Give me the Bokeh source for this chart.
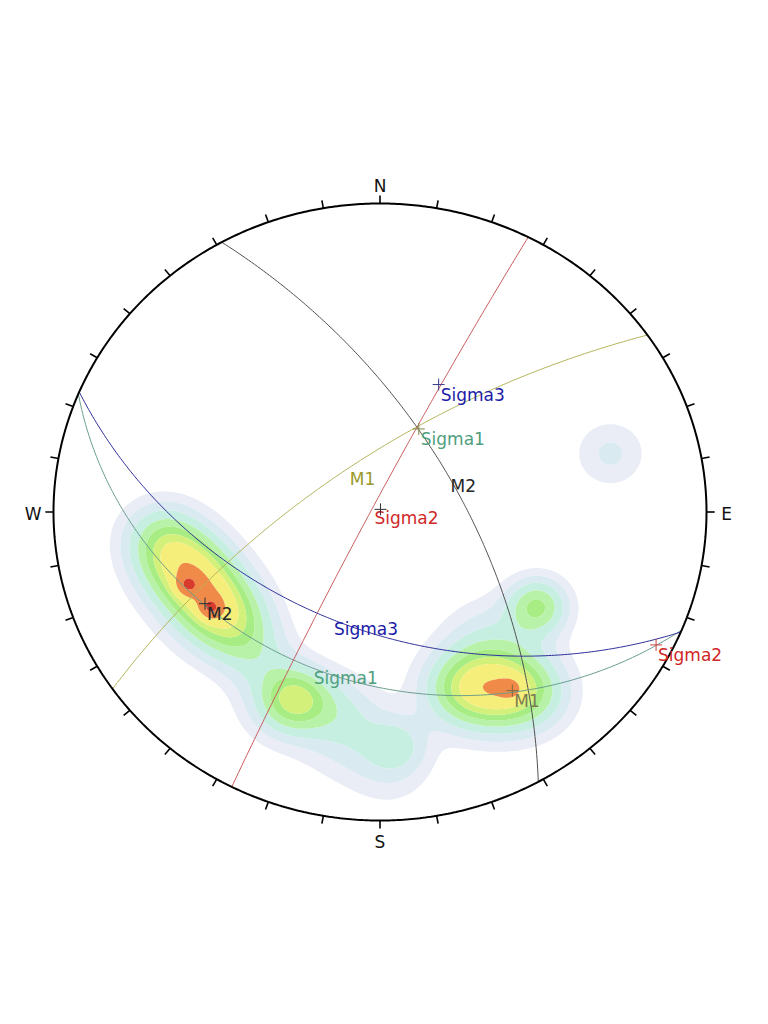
import numpy as np
from bokeh.plotting import figure
from bokeh.models import Range1d
from bokeh.embed import file_html
from bokeh.resources import INLINE
from bokeh.core.properties import value

# ---------------- data ----------------
cardinal_labels = ["N", "E", "S", "W"]
cardinal_azimuths = [0, 90, 180, 270]
tick_azimuths = list(range(0, 360, 10))

# great circles (dip direction / dip, degrees)
plane_names = ["M1", "M2", "Sigma1", "Sigma2", "Sigma3"]
plane_dipdir = [325.0, 61.0, 202.5, 297.0, 202.9]
plane_dip = [70.5, 63.0, 32.7, 87.0, 48.6]
plane_line_colors = ["#b4b45a", "#505050", "#6a9e8e", "#c85a5a", "#30309a"]
plane_text_colors = ["#9a9a2a", "#262626", "#4fa07e", "#d02828", "#1c1ca8"]

# poles / axes (trend / plunge, degrees)
pole_names = ["Sigma3", "Sigma1", "M2", "M1", "Sigma2", ""]
pole_trend = [23.5, 23.8, 241.0, 145.0, 117.0, 10.0]
pole_plunge = [41.5, 57.2, 27.0, 19.5, 3.0, 89.0]
pole_mark_colors = ["#3a3a8a", "#7a8a40", "#303030", "#806a40", "#c84040", "#303030"]
pole_text_colors = ["#1c1ca8", "#4fa07e", "#262626", "#7c7c50", "#d02828", "#262626"]

# pole concentrations used for the density contours (trend, plunge, weight, spread)
dens_trend = [263.6, 257.6, 251.0, 243.9, 236.0, 228.2, 220.1, 248.1, 238.9, 254.2, 237.6,
              215.4, 203.2, 192.0, 184.6, 175.9, 177.8, 192.4, 207.5,
              157.2, 151.0, 145.8, 141.2, 144.6, 122.4, 140.9, 147.1,
              75.0]
dens_plunge = [21.4, 24.4, 26.9, 28.7, 29.6, 29.7, 29.2, 24.9, 27.6, 25.2, 28.4,
               26.2, 23.3, 23.3, 16.8, 15.6, 10.0, 19.4, 18.1,
               26.3, 23.6, 20.0, 16.2, 19.9, 30.5, 33.6, 23.9,
               17.7]
dens_weight = [0.20, 0.24, 0.28, 0.28, 0.26, 0.18, 0.06, 0.24, 0.27, 0.13, 0.13,
               0.10, 0.45, 0.12, 0.08, 0.17, 0.08, 0.08, 0.08,
               0.26, 0.27, 0.27, 0.21, 0.15, 0.40, 0.12, 0.13,
               0.135]
dens_spread = [0.08, 0.08, 0.08, 0.08, 0.08, 0.08, 0.08, 0.025, 0.025, 0.11, 0.11,
               0.079, 0.069, 0.079, 0.088, 0.063, 0.094, 0.12, 0.08,
               0.082, 0.082, 0.082, 0.082, 0.028, 0.063, 0.094, 0.13,
               0.075]

contour_levels = [0.06, 0.12, 0.20, 0.30, 0.40, 0.50, 0.60, 0.80, 1.00, 50.0]
contour_colors = ["#eaedf5", "#d9eaf1", "#c6efe2", "#b8f2a8", "#a8ec84",
                  "#d2f07a", "#f6ee7a", "#f08a48", "#d83a2c"]

# ---------------- geometry helpers (equal-angle, lower hemisphere) ----------------
def project(trend_deg, plunge_deg):
    t = np.radians(np.asarray(trend_deg, dtype=float))
    p = np.radians(np.asarray(plunge_deg, dtype=float))
    r = np.tan((np.pi / 2 - p) / 2)
    return r * np.sin(t), r * np.cos(t)


def great_circle(dipdir, dip, n=241):
    a = np.radians(dipdir)
    d = np.radians(dip)
    s = np.array([np.sin(a - np.pi / 2), np.cos(a - np.pi / 2), 0.0])
    dv = np.array([np.cos(d) * np.sin(a), np.cos(d) * np.cos(a), np.sin(d)])
    t = np.linspace(0, np.pi, n)
    v = np.outer(np.cos(t), s) + np.outer(np.sin(t), dv)
    x = v[:, 0] / (1 + v[:, 2])
    y = v[:, 1] / (1 + v[:, 2])
    mid = (dv[0] / (1 + dv[2]), dv[1] / (1 + dv[2]))
    return x, y, mid


# ---------------- figure ----------------
W, H = 752, 1000
cx_pix, cy_pix = 379.5, 511.5
rx_pix, ry_pix = 326.5, 308.5
p = figure(width=W, height=H, output_backend="svg", toolbar_location=None,
           x_range=Range1d(-cx_pix / rx_pix, (W - cx_pix) / rx_pix),
           y_range=Range1d(-(H - cy_pix) / ry_pix, cy_pix / ry_pix),
           x_axis_type=None, y_axis_type=None, min_border=0)
p.grid.visible = False
p.outline_line_color = None
p.background_fill_color = "white"

# density contours
g = np.linspace(-1.0, 1.0, 401)
X, Y = np.meshgrid(g, g)
Z = np.zeros_like(X)
dx, dy = project(dens_trend, dens_plunge)
for px_, py_, w_, s_ in zip(dx, dy, dens_weight, dens_spread):
    Z += w_ * np.exp(-((X - px_) ** 2 + (Y - py_) ** 2) / (2 * s_ ** 2))
Z[np.hypot(X, Y) > 1.0] = 0.0
p.contour(g, g, Z, contour_levels, fill_color=contour_colors, line_color=None)

# great circles
for name, ddir, dip, lc, tc in zip(plane_names, plane_dipdir, plane_dip,
                                   plane_line_colors, plane_text_colors):
    x, y, mid = great_circle(ddir, dip)
    p.line(x, y, line_color=lc, line_width=1)
    p.text([mid[0]], [mid[1]], text=[name], text_color=tc,
           text_font=value("DejaVu Sans"), text_font_size="17px",
           text_align="left", text_baseline="middle", x_offset=2, y_offset=10)

# primitive circle
az = np.radians(np.linspace(0, 360, 721))
p.line(np.sin(az), np.cos(az), line_color="black", line_width=2)

# ticks
ta = np.radians(np.array(tick_azimuths, dtype=float))
p.segment(np.sin(ta), np.cos(ta), 1.025 * np.sin(ta), 1.026 * np.cos(ta),
          line_color="black", line_width=1.6)

# cardinal labels
ca = np.radians(np.array(cardinal_azimuths, dtype=float))
p.text(1.062 * np.sin(ca), 1.062 * np.cos(ca), text=cardinal_labels,
       text_color="#111111", text_font=value("DejaVu Sans"), text_font_size="17px",
       text_align="center", text_baseline="middle", y_offset=2)

# poles
px_, py_ = project(pole_trend, pole_plunge)
p.scatter(px_, py_, marker="cross", size=12, line_color=pole_mark_colors, line_width=1)
p.text(px_, py_, text=pole_names, text_color=pole_text_colors,
       text_font=value("DejaVu Sans"), text_font_size="17px",
       text_align="left", text_baseline="middle", x_offset=2, y_offset=10)

open("out.html", "w").write(file_html(p, INLINE))
